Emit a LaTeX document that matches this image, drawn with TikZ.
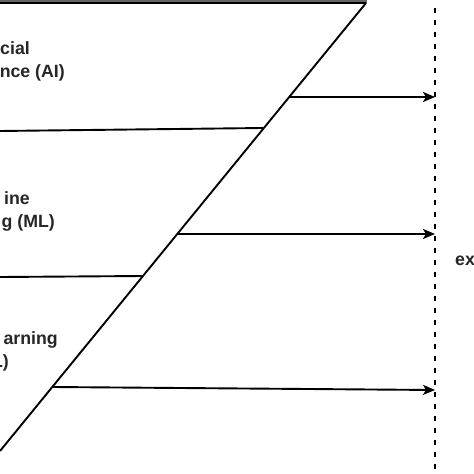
\documentclass[tikz,border=0pt]{standalone}
\usepackage{fontspec}
\setmainfont{Liberation Sans}
\usetikzlibrary{arrows.meta}
\begin{document}
\begin{tikzpicture}[x=1bp,y=-1bp,
  edge/.style={line width=1.9bp,black},
  arr/.style={edge,-{Stealth[length=12bp,width=10bp,inset=3bp]}},
  lbl/.style={inner sep=0pt,font=\fontsize{17.8}{22}\selectfont\bfseries,text=black!85}]
\useasboundingbox (0,0) rectangle (474,474);
\fill[white] (0,0) rectangle (474,474);
% top edge
\fill[black!60] (0,0) rectangle (367,3);
\coordinate (tl) at (0,3);
\coordinate (tr) at (366,3);
\coordinate (bl) at (0,451);
\draw[edge] (tl) -- (tr);
\draw[edge] (tr) -- (bl);
% separators
\coordinate (s1a) at (0,131);
\coordinate (s1b) at (263,128);
\coordinate (s2a) at (0,277);
\coordinate (s2b) at (143,276);
\draw[edge] (s1a) -- (s1b);
\draw[edge] (s2a) -- (s2b);
% dashed boundary
\coordinate (dtop) at (435,8);
\coordinate (dbot) at (435,474);
\draw[line width=1.9bp,dash pattern=on 5bp off 7bp] (dtop) -- (dbot);
% arrows
\coordinate (a1s) at (290,97);
\coordinate (a1e) at (435,97);
\coordinate (a2s) at (178,234);
\coordinate (a2e) at (435,234);
\coordinate (a3s) at (53,387);
\coordinate (a3e) at (435,390);
\draw[arr] (a1s) -- (a1e);
\draw[arr] (a2s) -- (a2e);
\draw[arr] (a3s) -- (a3e);
% labels
\node[lbl,anchor=base east] (t1) at (30,55) {cial};
\node[lbl,anchor=base east] (t2) at (65,78) {nce (AI)};
\node[lbl,anchor=base east] (t3) at (30,205) {ine};
\node[lbl,anchor=base east] (t4) at (55,228) {g (ML)};
\node[lbl,anchor=base east] (t5) at (58,344) {arning};
\node[lbl,anchor=base east] (t6) at (9,367) {L)};
\node[lbl,anchor=base west] (t7) at (455,265) {ex};
\end{tikzpicture}
\end{document}
